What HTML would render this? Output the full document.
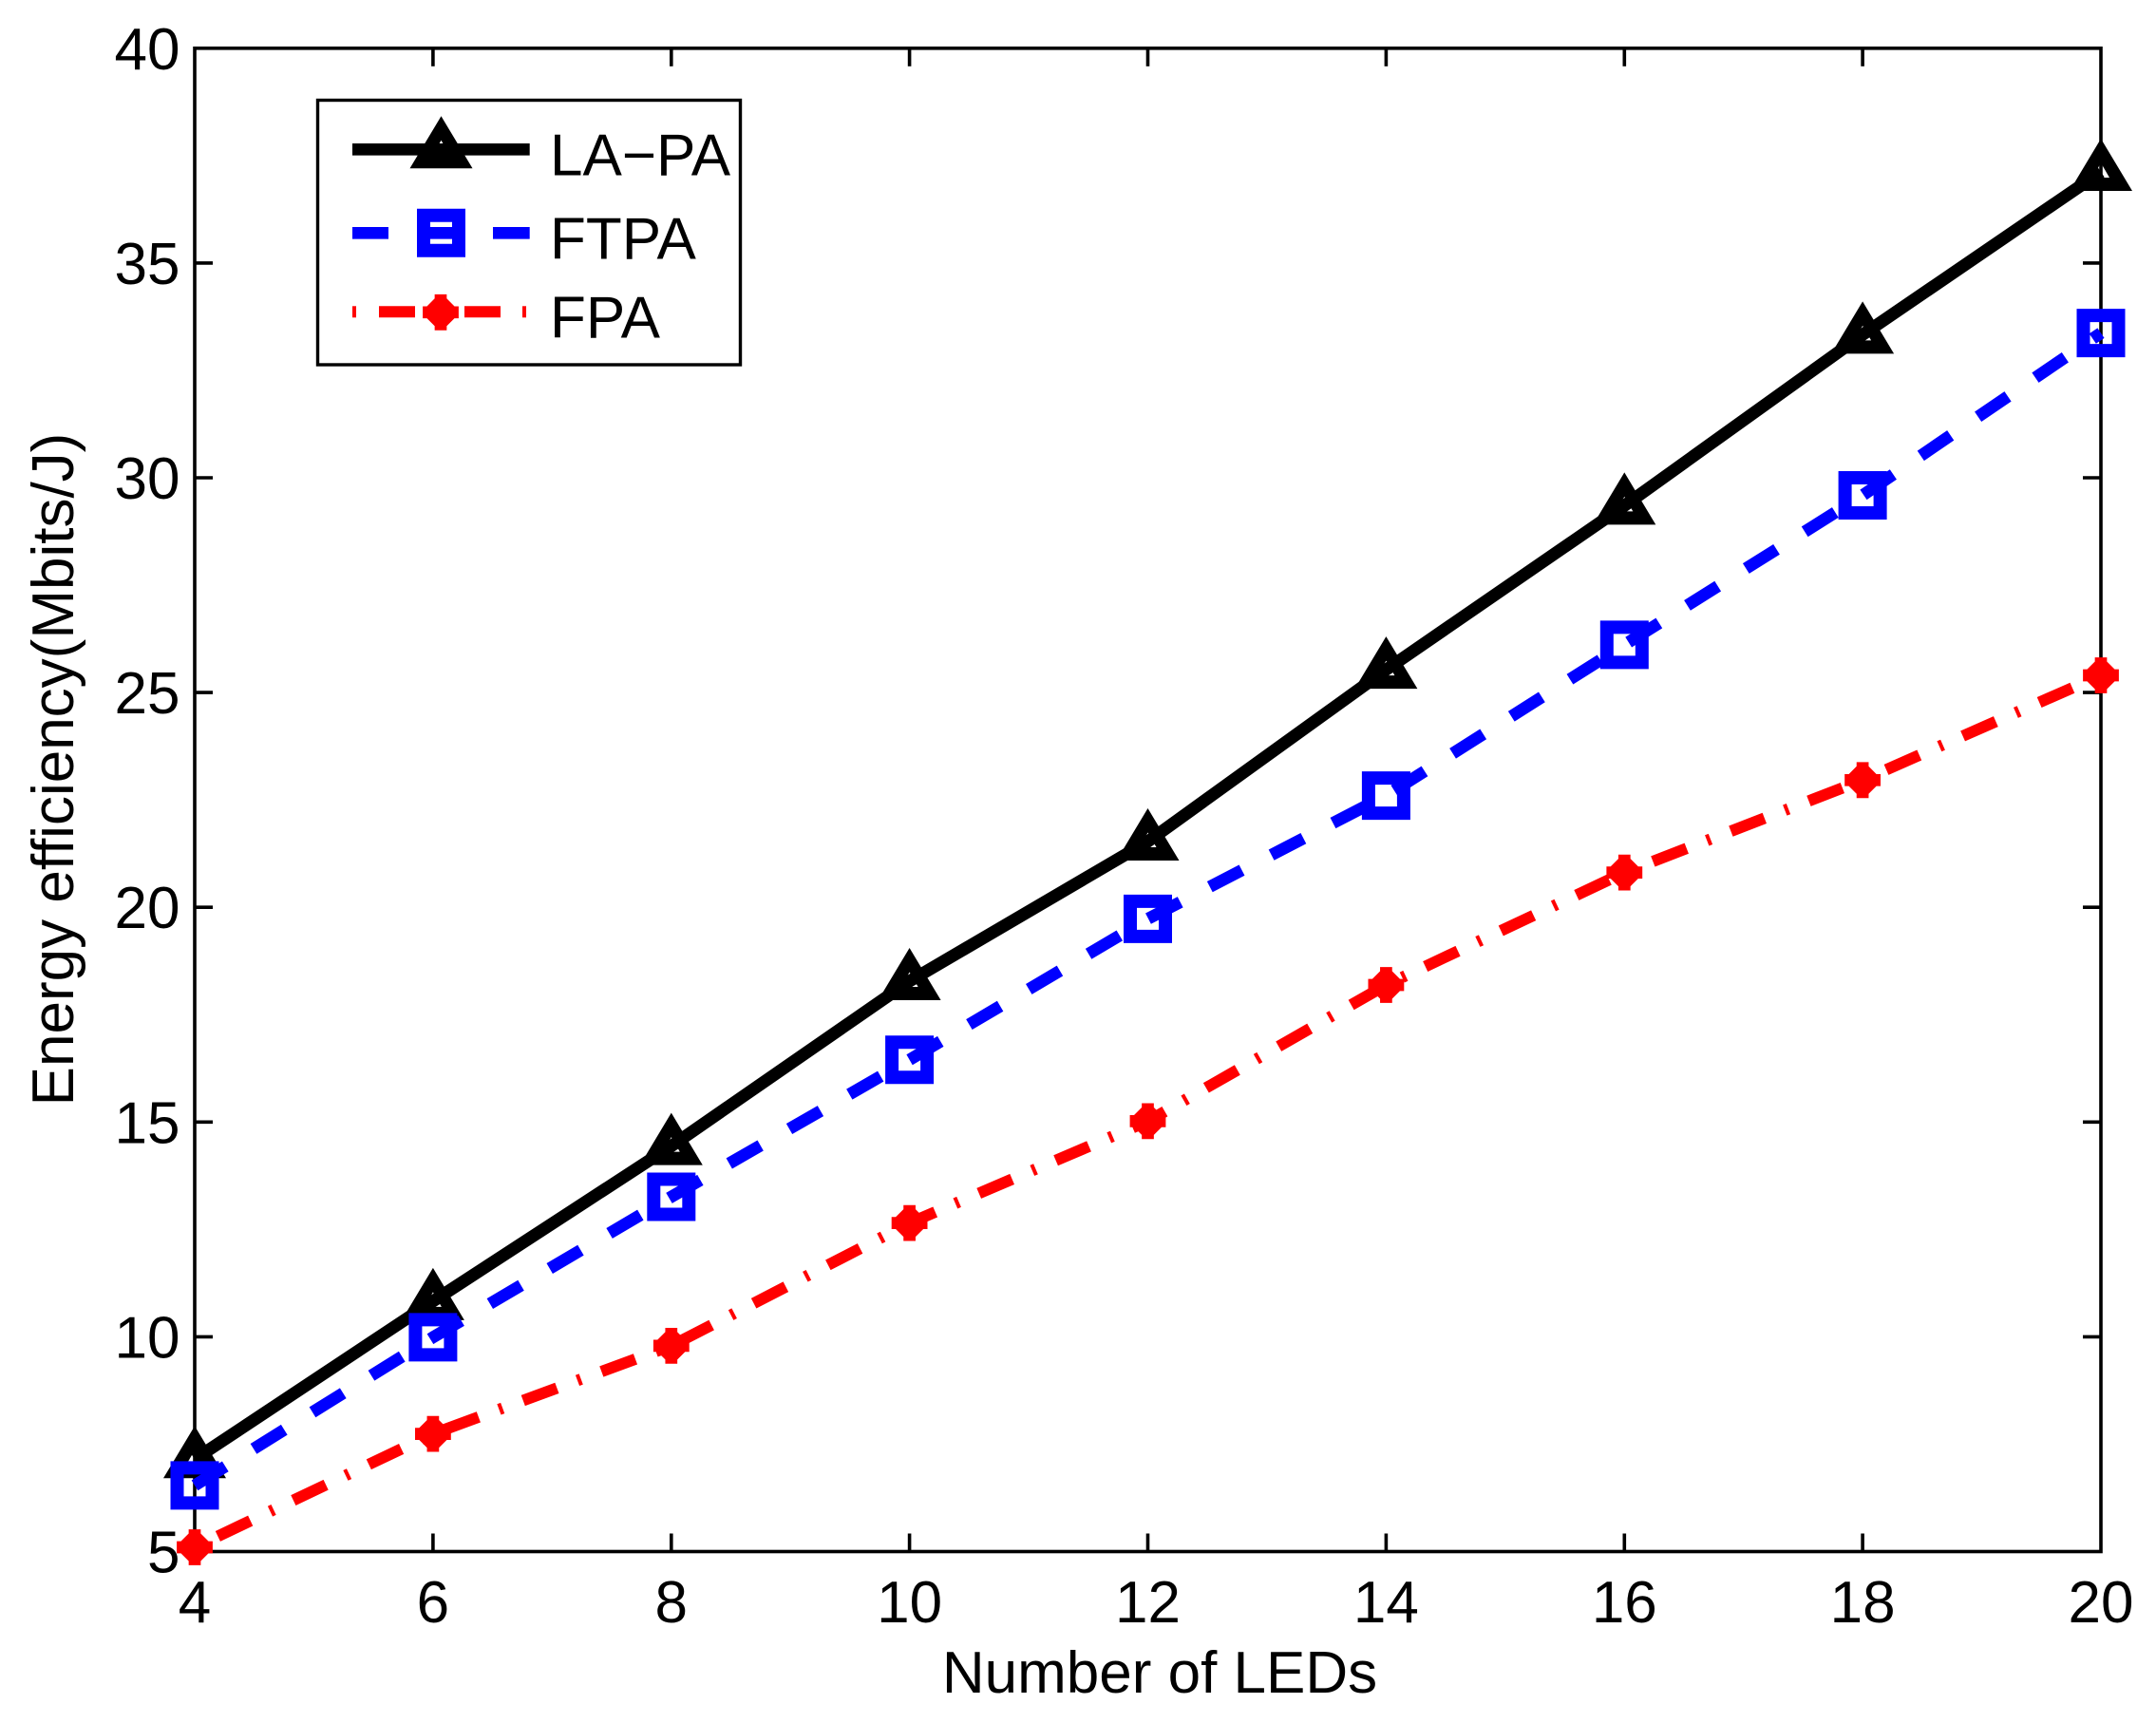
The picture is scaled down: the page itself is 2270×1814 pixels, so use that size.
<!DOCTYPE html>
<html>
<head>
<meta charset="utf-8">
<style>
  html, body { margin: 0; padding: 0; background: #ffffff; }
  svg { display: block; }
  text { font-family: "Liberation Sans", Arial, Helvetica, sans-serif; fill: #000; }
</style>
</head>
<body>
<svg xmlns="http://www.w3.org/2000/svg" width="2270" height="1814" viewBox="0 0 2270 1814">
  <defs>
    <path id="tri" fill-rule="evenodd" d="M0,-35 L33,20 L-33,20 Z M0,-9.5 L9,6 L-9,6 Z"/>
    <path id="sq" fill-rule="evenodd" d="M-25.5,-25.5 H25.5 V25.5 H-25.5 Z M-11.5,-11.5 V11.5 H11.5 V-11.5 Z"/>
    <polygon id="star" points="-6.35,-18.9 6.35,-18.9 6.35,-14.5 14.5,-6.35 18.9,-6.35 18.9,6.35 14.5,6.35 6.35,14.5 6.35,18.9 -6.35,18.9 -6.35,14.5 -14.5,6.35 -18.9,6.35 -18.9,-6.35 -14.5,-6.35 -6.35,-14.5"/>
  </defs>

  <rect x="0" y="0" width="2270" height="1814" fill="#ffffff"/>

  <!-- Axes box -->
  <rect x="205" y="50.8" width="2007" height="1582.7" fill="none" stroke="#000" stroke-width="3.6"/>

  <!-- X ticks (bottom and top) -->
  <g stroke="#000" stroke-width="3.6">
    <line x1="455.9" y1="1633.5" x2="455.9" y2="1614.5"/>
    <line x1="706.8" y1="1633.5" x2="706.8" y2="1614.5"/>
    <line x1="957.6" y1="1633.5" x2="957.6" y2="1614.5"/>
    <line x1="1208.5" y1="1633.5" x2="1208.5" y2="1614.5"/>
    <line x1="1459.4" y1="1633.5" x2="1459.4" y2="1614.5"/>
    <line x1="1710.3" y1="1633.5" x2="1710.3" y2="1614.5"/>
    <line x1="1961.1" y1="1633.5" x2="1961.1" y2="1614.5"/>

    <line x1="455.9" y1="50.8" x2="455.9" y2="69.8"/>
    <line x1="706.8" y1="50.8" x2="706.8" y2="69.8"/>
    <line x1="957.6" y1="50.8" x2="957.6" y2="69.8"/>
    <line x1="1208.5" y1="50.8" x2="1208.5" y2="69.8"/>
    <line x1="1459.4" y1="50.8" x2="1459.4" y2="69.8"/>
    <line x1="1710.3" y1="50.8" x2="1710.3" y2="69.8"/>
    <line x1="1961.1" y1="50.8" x2="1961.1" y2="69.8"/>

    <!-- Y ticks left and right -->
    <line x1="205" y1="1407.4" x2="224" y2="1407.4"/>
    <line x1="205" y1="1181.3" x2="224" y2="1181.3"/>
    <line x1="205" y1="955.2" x2="224" y2="955.2"/>
    <line x1="205" y1="729.1" x2="224" y2="729.1"/>
    <line x1="205" y1="503.0" x2="224" y2="503.0"/>
    <line x1="205" y1="276.9" x2="224" y2="276.9"/>

    <line x1="2212" y1="1407.4" x2="2193" y2="1407.4"/>
    <line x1="2212" y1="1181.3" x2="2193" y2="1181.3"/>
    <line x1="2212" y1="955.2" x2="2193" y2="955.2"/>
    <line x1="2212" y1="729.1" x2="2193" y2="729.1"/>
    <line x1="2212" y1="503.0" x2="2193" y2="503.0"/>
    <line x1="2212" y1="276.9" x2="2193" y2="276.9"/>
  </g>

  <!-- Y tick labels -->
  <g font-size="62" text-anchor="end">
    <text x="189.5" y="1655.5">5</text>
    <text x="189.5" y="1429.4">10</text>
    <text x="189.5" y="1203.3">15</text>
    <text x="189.5" y="977.2">20</text>
    <text x="189.5" y="751.1">25</text>
    <text x="189.5" y="525.0">30</text>
    <text x="189.5" y="298.9">35</text>
    <text x="189.5" y="72.8">40</text>
  </g>

  <!-- X tick labels -->
  <g font-size="62" text-anchor="middle">
    <text x="205" y="1708">4</text>
    <text x="455.9" y="1708">6</text>
    <text x="706.8" y="1708">8</text>
    <text x="957.6" y="1708">10</text>
    <text x="1208.5" y="1708">12</text>
    <text x="1459.4" y="1708">14</text>
    <text x="1710.3" y="1708">16</text>
    <text x="1961.1" y="1708">18</text>
    <text x="2212" y="1708">20</text>
  </g>

  <!-- Axis labels -->
  <text x="1221" y="1782" font-size="62" text-anchor="middle">Number of LEDs</text>
  <text transform="translate(77,810) rotate(-90)" x="0" y="0" font-size="62" text-anchor="middle">Energy efficiency(Mbits/J)</text>

  <!-- LA-PA series -->
  <polyline fill="none" stroke="#000" stroke-width="13" stroke-linejoin="round"
    points="205,1536.3 455.9,1369.9 706.8,1206.6 957.6,1033.0 1208.5,886.0 1459.4,705.1 1710.3,532.4 1961.1,352.4 2212,181.0"/>
  <g fill="#000">
    <use href="#tri" x="205" y="1536.3"/>
    <use href="#tri" x="455.9" y="1369.9"/>
    <use href="#tri" x="706.8" y="1206.6"/>
    <use href="#tri" x="957.6" y="1033.0"/>
    <use href="#tri" x="1208.5" y="886.0"/>
    <use href="#tri" x="1459.4" y="705.1"/>
    <use href="#tri" x="1710.3" y="532.4"/>
    <use href="#tri" x="1961.1" y="352.4"/>
    <use href="#tri" x="2212" y="181.0"/>
  </g>

  <!-- FTPA series -->
  <polyline fill="none" stroke="#0000ff" stroke-width="12.7" stroke-linejoin="round" stroke-dasharray="38 35"
    points="205,1563.9 455.9,1407.9 706.8,1260.0 957.6,1115.7 1208.5,967.4 1459.4,837.6 1710.3,678.9 1961.1,521.5 2212,350.6"/>
  <g fill="#0000ff">
    <use href="#sq" x="205" y="1563.9"/>
    <use href="#sq" x="455.9" y="1407.9"/>
    <use href="#sq" x="706.8" y="1260.0"/>
    <use href="#sq" x="957.6" y="1115.7"/>
    <use href="#sq" x="1208.5" y="967.4"/>
    <use href="#sq" x="1459.4" y="837.6"/>
    <use href="#sq" x="1710.3" y="678.9"/>
    <use href="#sq" x="1961.1" y="521.5"/>
    <use href="#sq" x="2212" y="350.6"/>
  </g>

  <!-- FPA series -->
  <polyline fill="none" stroke="#ff0000" stroke-width="12" stroke-linejoin="round" stroke-dasharray="4 23 38 23"
    points="205,1629.0 455.9,1509.6 706.8,1416.9 957.6,1287.6 1208.5,1180.4 1459.4,1037.0 1710.3,918.6 1961.1,821.3 2212,711.0"/>
  <g fill="#ff0000">
    <use href="#star" x="205" y="1629.0"/>
    <use href="#star" x="455.9" y="1509.6"/>
    <use href="#star" x="706.8" y="1416.9"/>
    <use href="#star" x="957.6" y="1287.6"/>
    <use href="#star" x="1208.5" y="1180.4"/>
    <use href="#star" x="1459.4" y="1037.0"/>
    <use href="#star" x="1710.3" y="918.6"/>
    <use href="#star" x="1961.1" y="821.3"/>
    <use href="#star" x="2212" y="711.0"/>
  </g>

  <!-- Legend -->
  <rect x="334.5" y="105.5" width="445" height="278.5" fill="#ffffff" stroke="#000" stroke-width="3.4"/>

  <!-- LA-PA entry -->
  <line x1="371" y1="157.3" x2="557.7" y2="157.3" stroke="#000" stroke-width="12.7"/>
  <use href="#tri" x="464.5" y="157.3" fill="#000"/>
  <text x="579" y="184.3" font-size="62">LA&#8722;PA</text>

  <!-- FTPA entry -->
  <line x1="371" y1="245.3" x2="409" y2="245.3" stroke="#0000ff" stroke-width="12.7"/>
  <line x1="519" y1="245.3" x2="557.7" y2="245.3" stroke="#0000ff" stroke-width="12.7"/>
  <line x1="445" y1="245.3" x2="483" y2="245.3" stroke="#0000ff" stroke-width="12.7"/>
  <use href="#sq" x="464.5" y="245.3" fill="#0000ff"/>
  <text x="579" y="272.7" font-size="62">FTPA</text>

  <!-- FPA entry -->
  <g stroke="#ff0000" stroke-width="12">
    <line x1="371" y1="328.3" x2="375" y2="328.3"/>
    <line x1="399" y1="328.3" x2="437" y2="328.3"/>
    <line x1="489" y1="328.3" x2="527" y2="328.3"/>
    <line x1="550" y1="328.3" x2="554" y2="328.3"/>
  </g>
  <use href="#star" x="464" y="328.8" fill="#ff0000"/>
  <text x="579" y="355.7" font-size="62">FPA</text>
</svg>
</body>
</html>
